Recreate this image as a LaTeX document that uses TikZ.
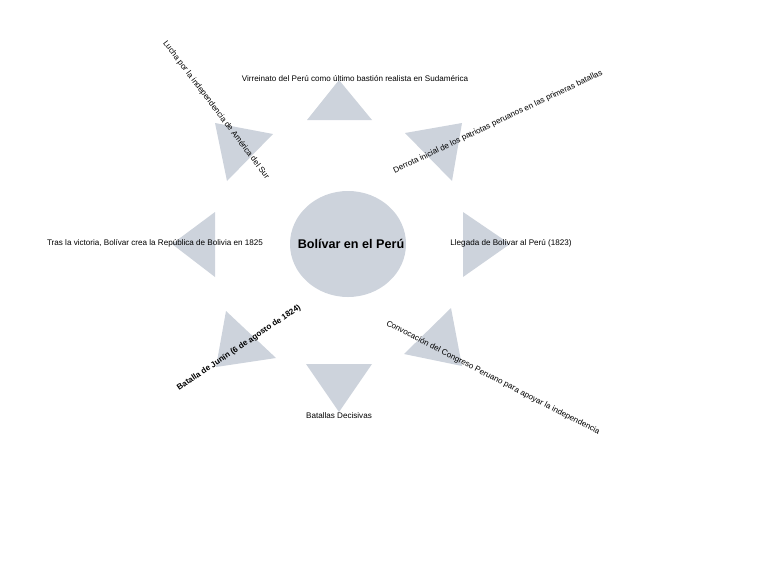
\documentclass[tikz,border=0pt]{standalone}
\usepackage{fontspec}
\setmainfont{Liberation Sans}
\usetikzlibrary{positioning,calc,shapes.geometric}
\definecolor{bolgris}{RGB}{205,211,220}
\tikzset{font=\fontsize{8.1}{9}\selectfont}

\begin{document}
\begin{tikzpicture}[x=1pt, y=-1pt]
	\useasboundingbox (0,0) rectangle (768,576);
	\begin{scope}
		\tikzstyle{every node}=[align=center, inner sep=1pt]
		\tikzstyle{flecha}=[fill=bolgris]

		% flechas
		\fill[flecha] (339,80)  -- (307,120) -- (372,120) -- cycle;
		\fill[flecha] (462,123) -- (405,133) -- (452,181) -- cycle;
		\fill[flecha] (215,123) -- (273,134) -- (227,181) -- cycle;
		\fill[flecha] (172,244) -- (215,212) -- (215,277) -- cycle;
		\fill[flecha] (510,244) -- (463,212) -- (463,277) -- cycle;
		\fill[flecha] (216,367) -- (226,311) -- (276,358) -- cycle;
		\fill[flecha] (462,366) -- (404,354) -- (451,308) -- cycle;
		\fill[flecha] (339,412) -- (306,364) -- (372,364) -- cycle;

		% centro
		\fill[flecha] (348,244) ellipse [x radius=58, y radius=53];
		\node[font=\fontsize{12.6}{14}\selectfont\bfseries] (bolivar) at (351,244) {Bolívar en el Perú};

		% textos
		\node (virreinato) at (355,79) {Virreinato del Perú como último bastión realista en Sudamérica};
		\node[rotate=-52.9] (lucha) at (216,110) {Lucha por la independencia de América del Sur};
		\node[rotate=25.4] (derrota) at (498,122) {Derrota inicial de los patriotas peruanos en las primeras batallas};
		\node (tras) at (155,243) {Tras la victoria, Bolívar crea la República de Bolivia en 1825};
		\node (llegada) at (511,243) {Llegada de Bolívar al Perú (1823)};
		\node[rotate=33.8, font=\fontsize{8.1}{9}\selectfont\bfseries] (junin) at (239,348) {Batalla de Junín (6 de agosto de 1824)};
		\node (batallas) at (339,416) {Batallas Decisivas};
		\node[rotate=-27.3] (congreso) at (493,378) {Convocación del Congreso Peruano para apoyar la independencia};
	\end{scope}
\end{tikzpicture}
\end{document}
